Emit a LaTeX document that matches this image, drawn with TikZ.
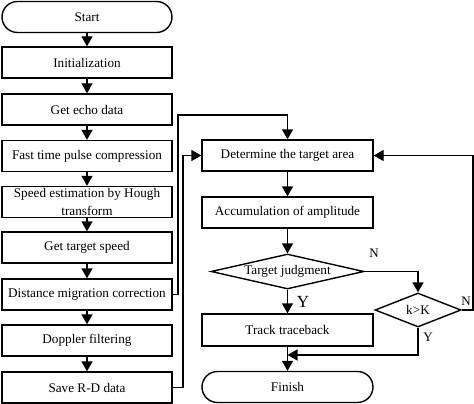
\documentclass[tikz,border=0pt]{standalone}
\usepackage{fontspec}
\setmainfont{Liberation Serif}
\usetikzlibrary{arrows.meta,shapes.geometric}

\tikzset{
    box/.style={draw, line width=1.4pt, minimum width=170pt, minimum height=31pt, inner sep=0pt, font=\fontsize{13.2}{15}\selectfont},
    term/.style={box, rounded corners=15.5pt},
    judge/.style={draw, line width=1.4pt, diamond, inner sep=0pt, font=\fontsize{13.2}{15}\selectfont},
    arr/.style={line width=1.4pt, -{Triangle[length=10pt,width=11pt]}},
    line/.style={line width=1.4pt}
}

\begin{document}
\begin{tikzpicture}[x=1pt,y=-1pt]
    \useasboundingbox (0,0) rectangle (474,404);

    % Left column
    \node[term] (start) at (87,17) {Start};
    \node[box] (init) at (87,62.5) {Initialization};
    \node[box] (echo) at (87,109.5) {Get echo data};
    \node[box] (fast) at (87,156) {Fast time pulse compression};
    \node[box, align=center, font=\fontsize{13.2}{18}\selectfont] (hough) at (87,202) {Speed estimation by Hough\\transform};
    \node[box] (speed) at (87,247.5) {Get target speed};
    \node[box] (dist) at (87,294.5) {Distance migration correction};
    \node[box] (dopp) at (87,340.5) {Doppler filtering};
    \node[box] (save) at (87,387.5) {Save R-D data};

    % Right column
    \node[box, minimum width=171pt] (det) at (287.5,155.5) {Determine the target area};
    \node[box, minimum width=171pt] (acc) at (287.5,212.5) {Accumulation of amplitude};
    \node[judge, minimum width=153pt, minimum height=35pt, aspect=4.4] (tj) at (287.5,271.5) {Target judgment};
    \node[judge, minimum width=86pt, minimum height=34pt, aspect=2.5] (kk) at (418,310) {k>K};
    \node[box, minimum width=171pt, minimum height=32pt] (track) at (287.5,330) {Track traceback};
    \node[term, minimum width=171pt] (fin) at (287.5,387) {Finish};

    % Bends
    \coordinate (c1) at (178,115);
    \coordinate (c2) at (183,155.5);
    \coordinate (c3) at (473,310);
    \coordinate (c4) at (287.5,355);

    % Main flow
    \foreach \a/\b in {start/init, init/echo, echo/fast, fast/hough, hough/speed, speed/dist, dist/dopp, dopp/save} {
        \draw[arr] (\a) -- (\b);
    }
    \draw[arr] (det) -- (acc);
    \draw[arr] (acc) -- (tj);
    \draw[arr] (tj) -- (track);
    \draw[arr] (track) -- (fin);

    % Feedback lines
    \draw[arr] (dist.east) -| (c1) -| (det.north);
    \draw[arr] (save.east) -| (c2) -- (det.west);
    \draw[arr] (tj.east) -| (kk.north);
    \draw[arr] (kk.east) -- (c3) |- (det.east);
    \draw[arr] (kk.south) |- (c4);

    % Labels
    \node[font=\fontsize{13}{15}\selectfont] (n1) at (374,253) {N};
    \node[font=\fontsize{13}{15}\selectfont] (n2) at (466,301) {N};
    \node[font=\fontsize{17}{19}\selectfont] (y1) at (303,302) {Y};
    \node[font=\fontsize{13}{15}\selectfont] (y2) at (428,337) {Y};
\end{tikzpicture}
\end{document}
